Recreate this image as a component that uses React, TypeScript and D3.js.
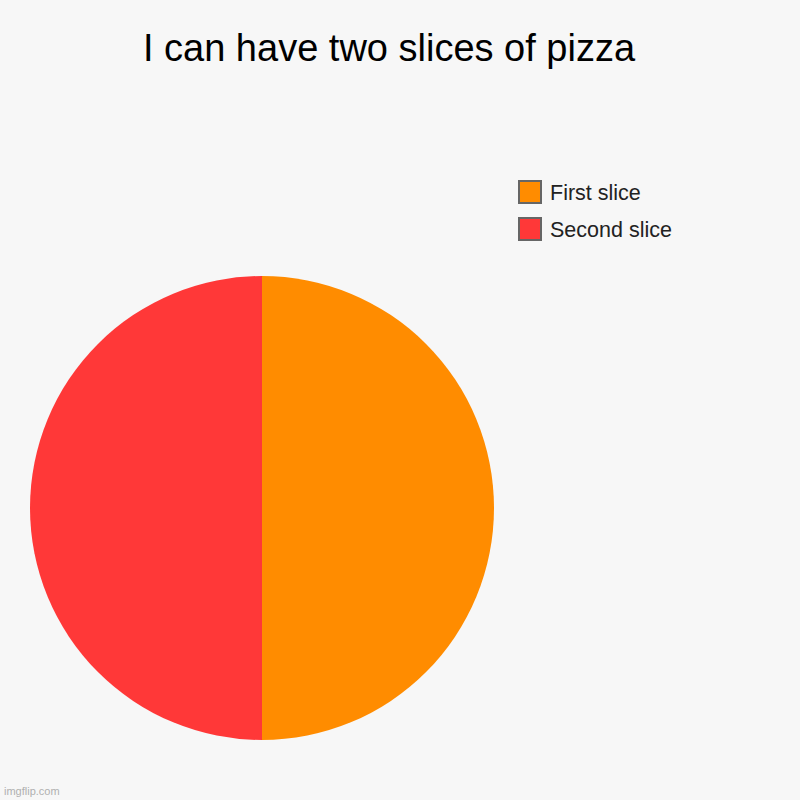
import React from "react";
import * as d3 from "d3";

const categories = ["First slice", "Second slice"];
const values = [1, 1];
const colors = ["#ff8c00", "#ff3838"];
const title = "I can have two slices of pizza";

export default function App() {
  const W = 800, H = 800;
  const cx = 262, cy = 508, r = 232;
  const pie = d3.pie<number>().sort(null).value((d) => d)(values);
  const arc = d3.arc<d3.PieArcDatum<number>>().innerRadius(0).outerRadius(r);
  return (
    <div style={{ position: "fixed", left: 0, top: 0 }}>
      <svg width={W} height={H} style={{ display: "block", fontFamily: "Arial, 'Liberation Sans', sans-serif" }}>
        <rect width={W} height={H} fill="#f7f7f7" />
        <text x={389} y={61} textAnchor="middle" fontSize={38} fill="#000">{title}</text>
        <g transform={`translate(${cx},${cy})`}>
          {pie.map((p, i) => (
            <path key={i} d={arc(p) || ""} fill={colors[i]} />
          ))}
        </g>
        {categories.map((c, i) => (
          <g key={c} transform={`translate(519,${181 + i * 37})`}>
            <rect width={22} height={22} fill={colors[i]} stroke="#666" strokeWidth={2} />
            <text x={31} y={19} fontSize={21.5} fill="#222">{c}</text>
          </g>
        ))}
        <text x={4} y={795} fontSize={11} fill="#b0b0b0">imgflip.com</text>
      </svg>
    </div>
  );
}
